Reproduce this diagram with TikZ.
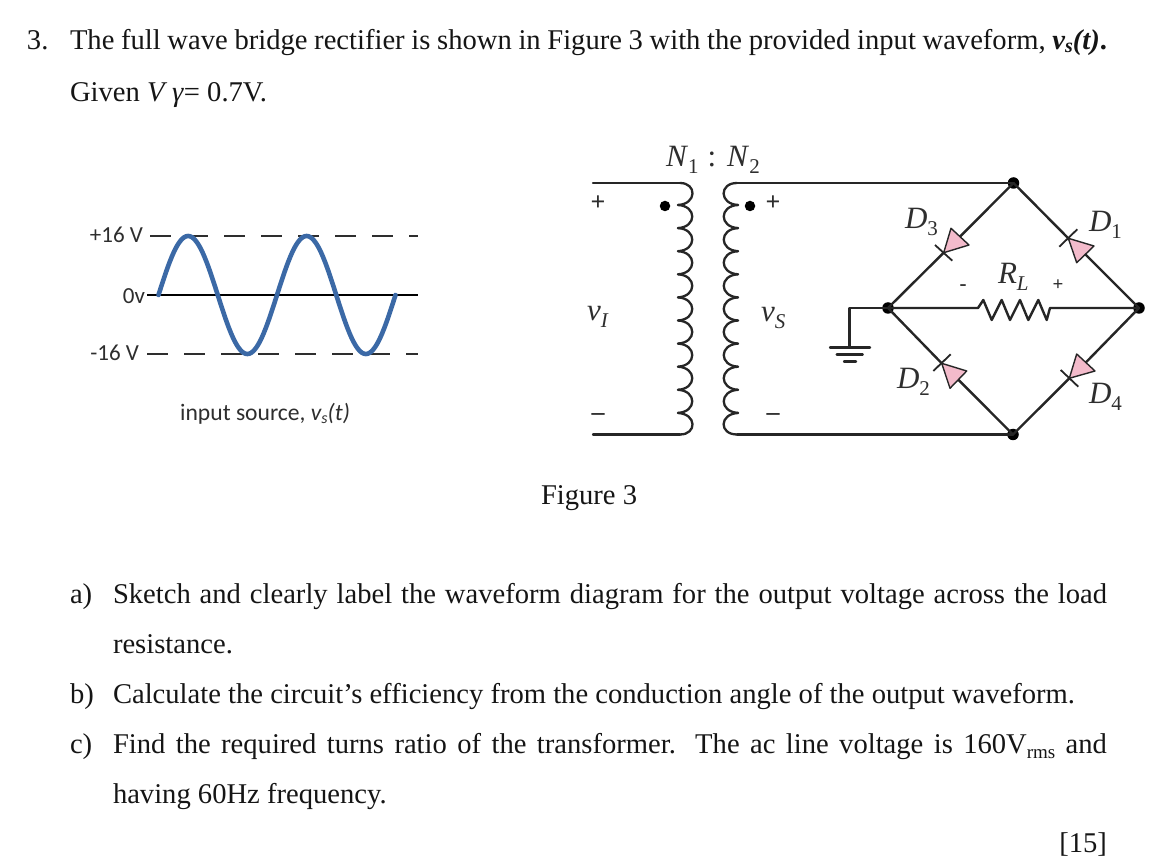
\documentclass[tikz,border=0pt]{standalone}
\usepackage{fontspec}
\setmainfont{Liberation Serif}
\newfontfamily\calibrilike{Carlito}
\definecolor{ink}{HTML}{151515}
\definecolor{wirecol}{HTML}{262626}
\definecolor{labelcol}{HTML}{2E2E2E}
\definecolor{wavecol}{HTML}{3B69A6}
\definecolor{diodepink}{HTML}{F3BBCB}
\newcommand{\bodyfont}{\fontsize{28.6}{29}\selectfont}
\newcommand{\figfont}{\fontsize{31}{31}\selectfont}
\newcommand{\sublab}[2]{\textit{#1}\raisebox{-0.22em}{\fontsize{21}{21}\selectfont #2}}
\newcommand{\jline}[2]{\hbox to #1pt{#2}}
\tikzset{
  x=1pt,y=-1pt,
  txt/.style={anchor=base west,inner sep=0pt,outer sep=0pt,text=ink,font=\bodyfont},
  rtxt/.style={anchor=base east,inner sep=0pt,outer sep=0pt,text=ink,font=\bodyfont},
  fig/.style={anchor=base west,inner sep=0pt,outer sep=0pt,text=labelcol,font=\figfont},
  sym/.style={anchor=center,inner sep=0pt,outer sep=0pt,text=labelcol},
  wave/.style={anchor=base east,inner sep=0pt,outer sep=0pt,text=labelcol,font=\calibrilike\fontsize{23}{23}\selectfont},
  wire/.style={draw=wirecol,line width=2.4pt,line cap=round,line join=round},
  coilline/.style={draw=wirecol,line width=2.3pt,line cap=round},
  thinwire/.style={draw=wirecol,line width=1.8pt},
  junction/.style={circle,fill=black,draw=none,minimum size=11.5pt,inner sep=0pt},
  polarity/.style={circle,fill=black,draw=none,minimum size=10.5pt,inner sep=0pt},
  diodefill/.style={fill=diodepink,draw=wirecol,line width=1.4pt,line join=round},
  level/.style={draw=labelcol,line width=1.6pt,dash pattern=on 21pt off 16pt},
}
\begin{document}
\begin{tikzpicture}
\useasboundingbox (0,0) rectangle (1163,866);
\fill[white] (0,0) rectangle (1163,866);

% question text
\node[txt] (qnum) at (27,50) {3.};
\node[txt] (qone) at (70,50) {\jline{1037}{The full wave bridge rectifier is shown in Figure 3 with the provided input waveform, \textbf{\textit{v\raisebox{-0.1em}{\fontsize{20}{20}\selectfont s}(t)}.}}};
\node[txt] (qtwo) at (70,102) {Given \textit{V}\,\textit{γ}= 0.7V.};
\node[txt] (figcap) at (541,505) {Figure 3};
\node[txt] (amark) at (70,604) {a)};
\node[txt] (aone) at (113,604) {\jline{994}{Sketch and clearly label the waveform diagram for the output voltage across the load}};
\node[txt] (atwo) at (113,653) {resistance.};
\node[txt] (bmark) at (70,703) {b)};
\node[txt] (bone) at (113,703) {Calculate the circuit’s efficiency from the conduction angle of the output waveform.};
\node[txt] (cmark) at (70,753) {c)};
\node[txt] (cone) at (113,753) {\jline{994}{Find the required turns ratio of the transformer. The ac line voltage is 160V\raisebox{-0.2em}{\fontsize{19}{19}\selectfont rms} and}};
\node[txt] (ctwo) at (113,803) {having 60Hz frequency.};
\node[rtxt] (marks) at (1107,852) {[15]};

% input waveform
\coordinate (axisL) at (147,295);
\coordinate (axisR) at (418,295);
\coordinate (hiL) at (150,236);
\coordinate (hiR) at (418,236);
\coordinate (loL) at (147,354);
\coordinate (loR) at (418,354);
\draw[level] (hiL) -- (hiR);
\draw[level] (loL) -- (loR);
\draw[black,line width=1.5pt] (axisL) -- (axisR);
\draw[wavecol,line width=4.6pt,line cap=round,line join=round]
  plot[domain=0:720,samples=121,smooth] ({158.5+\x*0.32917},{295-59*sin(\x)});
\node[wave] (vhi) at (143,243) {+16 V};
\node[wave] (vzero) at (145,304) {0v};
\node[wave] (vlo) at (139,361) {-16 V};
\node[anchor=base west,inner sep=0pt,text=labelcol,font=\calibrilike\fontsize{23.6}{24}\selectfont] (vcap) at (180,421)
  {input source, \textit{v\raisebox{-0.12em}{\fontsize{16}{16}\selectfont s}(t)}};

% transformer
\coordinate (pT) at (593,183);
\coordinate (pTc) at (680,183);
\coordinate (pB) at (593,434.5);
\coordinate (pBc) at (680,434.5);
\coordinate (sTc) at (737,183);
\coordinate (sBc) at (737,434.5);
\draw[wire] (pT) -- (pTc);
\draw[wire] (pB) -- (pBc);
\draw[coilline] (pTc) .. controls (697,183) and (697,204) .. (678,205);
\draw[coilline] (678,413) .. controls (697,414) and (697,434.5) .. (pBc);
\draw[coilline] (sTc) .. controls (719,183) and (719,204) .. (738,205);
\draw[coilline] (738,413) .. controls (719,414) and (719,434.5) .. (sBc);
\foreach \i in {0,...,8}{
  \draw[coilline] (678,{205+23.1*\i}) .. controls (697,{206+23.1*\i}) and (697,{227+23.1*\i}) .. (678,{228.1+23.1*\i});
  \draw[coilline] (738,{205+23.1*\i}) .. controls (719,{206+23.1*\i}) and (719,{227+23.1*\i}) .. (738,{228.1+23.1*\i});
}
\node[polarity] (dotp) at (665,206) {};
\node[polarity] (dots) at (750,206) {};
\node[sym,font=\bfseries\fontsize{26}{26}\selectfont] (pplus) at (598,203) {+};
\node[sym,font=\bfseries\fontsize{26}{26}\selectfont] (pminus) at (598,417) {–};
\node[sym,font=\bfseries\fontsize{26}{26}\selectfont] (splus) at (773,203) {+};
\node[sym,font=\bfseries\fontsize{26}{26}\selectfont] (sminus) at (773,417) {–};
\node[fig] (nratio) at (666,167) {\sublab{N}{1}\hspace{9pt}:\hspace{11pt}\sublab{N}{2}};
\node[fig] (vI) at (587,321) {\sublab{v}{\textit{I}}};
\node[fig] (vS) at (761,322) {\sublab{v}{\textit{S}}};

% bridge junctions
\node[junction] (T) at (1013.5,183) {};
\node[junction] (R) at (1139,308) {};
\node[junction] (L) at (888,308) {};
\node[junction] (B) at (1013,434.5) {};
\draw[wire] (sTc) -- (T.center);
\draw[wire] (sBc) -- (B.center);

% diode D3
\coordinate (d3a) at (951,228.3); \coordinate (d3b) at (969,245); \coordinate (d3k) at (943.7,252.7);
\coordinate (d3m) at (960,236.6); \coordinate (d3p) at (935,245); \coordinate (d3q) at (952.3,260.7);
% diode D1
\coordinate (d1a) at (1076.7,262.7); \coordinate (d1b) at (1094,246); \coordinate (d1k) at (1068.3,238.3);
\coordinate (d1m) at (1085.3,254.3); \coordinate (d1p) at (1059.3,246.7); \coordinate (d1q) at (1077.3,229.3);
% diode D2
\coordinate (d2a) at (950,388.3); \coordinate (d2b) at (966.7,371); \coordinate (d2k) at (941.7,363.3);
\coordinate (d2m) at (958.3,379.7); \coordinate (d2p) at (933.3,371); \coordinate (d2q) at (950.7,354.3);
% diode D4
\coordinate (d4a) at (1076.7,354); \coordinate (d4b) at (1095,371); \coordinate (d4k) at (1069.3,378.3);
\coordinate (d4m) at (1085.8,362.5); \coordinate (d4p) at (1060.7,370); \coordinate (d4q) at (1078.3,386.7);

\draw[wire] (L.center) -- (d3k);
\draw[wire] (d3m) -- (T.center);
\draw[wire] (T.center) -- (d1k);
\draw[wire] (d1m) -- (R.center);
\draw[wire] (L.center) -- (d2k);
\draw[wire] (d2m) -- (B.center);
\draw[wire] (R.center) -- (d4m);
\draw[wire] (d4k) -- (B.center);

\draw[diodefill] (d3a) -- (d3b) -- (d3k) -- cycle;
\draw[diodefill] (d1a) -- (d1b) -- (d1k) -- cycle;
\draw[diodefill] (d2a) -- (d2b) -- (d2k) -- cycle;
\draw[diodefill] (d4a) -- (d4b) -- (d4k) -- cycle;
\draw[thinwire] (d3p) -- (d3q);
\draw[thinwire] (d1p) -- (d1q);
\draw[thinwire] (d2p) -- (d2q);
\draw[thinwire] (d4p) -- (d4q);

% load resistor
\coordinate (rl) at (978,308);
\coordinate (rr) at (1050,308);
\draw[wire] (L.center) -- (rl)
  -- (983.3,300) -- (991.7,320) -- (1001.7,300) -- (1010,320) -- (1020,300) -- (1028.3,320) -- (1038.3,300) -- (1046.7,320) -- (rr)
  -- (R.center);

% ground
\coordinate (gc) at (849.3,308);
\coordinate (gb) at (849.3,347.7);
\draw[wire] (L.center) -- (gc) -- (gb);
\coordinate (g1a) at (830,347.7); \coordinate (g1b) at (870,347.7);
\coordinate (g2a) at (836.7,354.5); \coordinate (g2b) at (862.7,354.5);
\coordinate (g3a) at (844,361.7); \coordinate (g3b) at (856,361.7);
\draw[wire] (g1a) -- (g1b);
\draw[wire] (g2a) -- (g2b);
\draw[wire] (g3a) -- (g3b);

% bridge labels
\node[fig] (lD3) at (905,229) {\sublab{D}{3}};
\node[fig] (lD1) at (1089,232) {\sublab{D}{1}};
\node[fig] (lD2) at (897,389) {\sublab{D}{2}};
\node[fig] (lD4) at (1089,404) {\sublab{D}{4}};
\node[fig] (lRL) at (998,284) {\sublab{R}{\textit{L}}};
\node[sym,font=\bfseries\fontsize{19}{19}\selectfont] (rplus) at (1058,285) {+};
\node[sym,font=\bfseries\fontsize{21}{21}\selectfont] (rminus) at (963,288) {-};
\end{tikzpicture}
\end{document}
